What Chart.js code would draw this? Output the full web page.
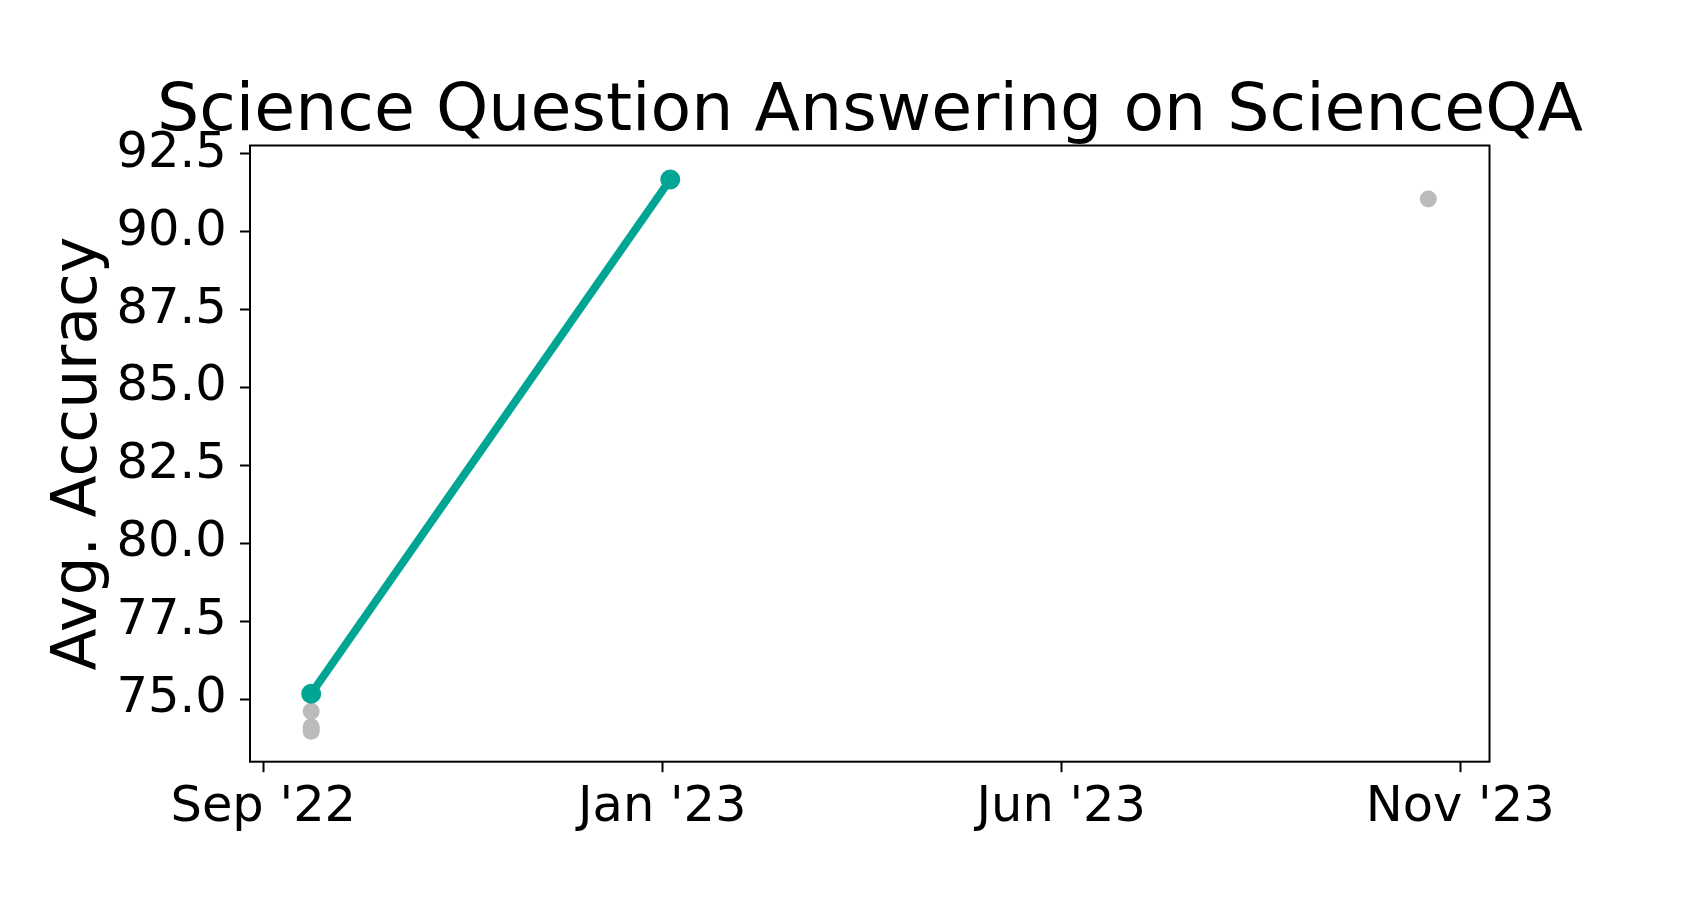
<!DOCTYPE html>
<html><head><meta charset="utf-8">
<script src="https://cdn.jsdelivr.net/npm/chart.js@4"></script>
<style>html,body{margin:0;padding:0;background:#fff}#wrap{width:1700px;height:900px}</style>
</head><body><div id="wrap"><canvas id="c" width="1700" height="900"></canvas></div>
<script>
const chartTitle = 'Science Question Answering on ScienceQA';
const yAxisLabel = 'Avg. Accuracy';
const sotaDates = ['2022-09-20', '2023-02-02'];
const sotaValues = [75.17, 91.68];
const otherDates = ['2022-09-20', '2022-09-20', '2022-09-20', '2022-09-20', '2023-11-14'];
const otherValues = [74.61, 74.11, 74.04, 73.97, 91.05];
const xTickDates = ['2022-09-02', '2023-01-30', '2023-06-29', '2023-11-26'];
const xTickLabels = ["Sep '22", "Jan '23", "Jun '23", "Nov '23"];
const yTickValues = [75, 77.5, 80, 82.5, 85, 87.5, 90, 92.5];
const xRange = ['2022-08-28', '2023-12-07'];
const yRange = [72.99, 92.77];

const day = s => Date.parse(s + 'T00:00:00Z') / 864e5;
const pts = (ds, vs) => ds.map((d, i) => ({x: day(d), y: vs[i]}));

const TEAL = '#00a693';
const GRAY = '#bbbbbb';
const FONT = 'DejaVu Sans';

const frame = {
  id: 'frame',
  afterDraw(chart) {
    const {ctx, chartArea: a} = chart;
    ctx.save();
    ctx.strokeStyle = '#000';
    ctx.lineWidth = 2;
    ctx.strokeRect(a.left, a.top, a.right - a.left, a.bottom - a.top);
    ctx.restore();
  }
};

new Chart(document.getElementById('c'), {
  type: 'scatter',
  data: {
    datasets: [
      {
        data: pts(sotaDates, sotaValues),
        showLine: true,
        borderColor: TEAL,
        borderWidth: 8,
        backgroundColor: TEAL,
        pointBackgroundColor: TEAL,
        pointBorderWidth: 0,
        pointRadius: 10,
        pointHoverRadius: 10
      },
      {
        data: pts(otherDates, otherValues),
        showLine: false,
        backgroundColor: GRAY,
        pointBackgroundColor: GRAY,
        pointBorderWidth: 0,
        pointRadius: 8.5,
        pointHoverRadius: 8.5
      }
    ]
  },
  options: {
    responsive: false,
    animation: false,
    devicePixelRatio: 1,
    layout: {padding: {left: 40, right: 0, top: 0, bottom: 0}},
    plugins: {
      legend: {display: false},
      tooltip: {enabled: false},
      title: {
        display: true,
        text: chartTitle,
        fullSize: true,
        color: '#000',
        font: {family: FONT, size: 66.5, weight: 'normal', lineHeight: 1},
        padding: {top: 79, bottom: 0}
      }
    },
    scales: {
      x: {
        type: 'linear',
        min: day(xRange[0]),
        max: day(xRange[1]),
        afterBuildTicks: ax => { ax.ticks = xTickDates.map(d => ({value: day(d)})); },
        afterFit: ax => { ax.height = 900 - 761.7; },
        border: {display: false},
        grid: {display: true, drawOnChartArea: false, drawTicks: true, tickLength: 10.5, tickWidth: 2, tickColor: '#000'},
        ticks: {
          autoSkip: false, maxRotation: 0, minRotation: 0, padding: 6.5,
          color: '#000', font: {family: FONT, size: 49.5},
          callback: (v, i) => xTickLabels[i]
        }
      },
      y: {
        type: 'linear',
        min: yRange[0],
        max: yRange[1],
        afterBuildTicks: ax => { ax.ticks = yTickValues.map(v => ({value: v})); },
        afterFit: ax => { ax.width = 210; },
        border: {display: false},
        grid: {display: true, drawOnChartArea: false, drawTicks: true, tickLength: 10, tickWidth: 2, tickColor: '#000'},
        title: {
          display: true, text: yAxisLabel, color: '#000',
          font: {family: FONT, size: 61.5, lineHeight: 1.2},
          padding: {top: 3, bottom: 0}
        },
        ticks: {
          autoSkip: false, padding: 13.3,
          color: '#000', font: {family: FONT, size: 49.5},
          callback: v => v.toFixed(1)
        }
      },
      yRight: {
        type: 'linear',
        position: 'right',
        display: true,
        afterFit: ax => { ax.width = 1700 - 1489.5; },
        border: {display: false},
        grid: {display: false},
        ticks: {display: false}
      }
    }
  },
  plugins: [frame]
});
</script>
</body></html>
